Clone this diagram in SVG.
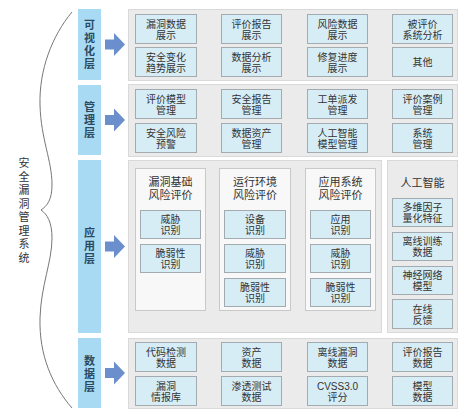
<svg xmlns="http://www.w3.org/2000/svg" width="474" height="415" viewBox="0 0 474 415">
<defs>
<style>
.bar{fill:#a9daf3;}
.panel{fill:#ebebeb;stroke:#d9d9d9;stroke-width:1;}
.sub{fill:#f8f8f8;stroke:#c9c9c9;stroke-width:1;}
.box{fill:#d7edf6;stroke:#a3aab0;stroke-width:1;}
.arrow{fill:#6b8fcc;}
text{font-family:"Liberation Sans","Noto Sans CJK SC",sans-serif;fill:#333;text-anchor:middle;}
.t{font-size:10px;}
.h{font-size:11px;}
.lay{font-size:11px;font-weight:bold;fill:#2b4a62;}
.main{font-size:11px;fill:#333;}
</style>
</defs>
<rect width="474" height="415" fill="#ffffff"/>

<g id="connectors">
<path d="M72,12 C52,36 39,70 40,105 C41,140 52,160 52,185 C52,200 47,206 41,210 C47,214 52,222 52,238 C52,262 41,285 40,318 C39,355 52,385 72,408" fill="none" stroke="#777" stroke-width="1"/>
<path class="arrow" d="M105,39.5 H114 V33 L125,44.5 L114,56 V49.5 H105 Z"/>
<path class="arrow" d="M105,115 H114 V108.5 L125,120 L114,131.5 V125 H105 Z"/>
<path class="arrow" d="M105,241.5 H114 V235 L125,246.5 L114,258 V251.5 H105 Z"/>
<path class="arrow" d="M105,368 H114 V361.5 L125,373 L114,384.5 V378 H105 Z"/>
</g>

<g id="title">
<text class="main" x="24" y="167"><tspan x="24">安</tspan><tspan x="24" dy="13.5">全</tspan><tspan x="24" dy="13.5">漏</tspan><tspan x="24" dy="13.5">洞</tspan><tspan x="24" dy="13.5">管</tspan><tspan x="24" dy="13.5">理</tspan><tspan x="24" dy="13.5">系</tspan><tspan x="24" dy="13.5">统</tspan></text>
</g>

<g id="layer-vis">
<rect class="bar" x="78" y="9" width="23" height="71"/>
<text class="lay" x="89.5" y="29"><tspan x="89.5">可</tspan><tspan x="89.5" dy="13">视</tspan><tspan x="89.5" dy="13">化</tspan><tspan x="89.5" dy="13">层</tspan></text>
</g>
<g id="layer-mgmt">
<rect class="bar" x="78" y="85" width="23" height="70"/>
<text class="lay" x="89.5" y="111"><tspan x="89.5">管</tspan><tspan x="89.5" dy="13">理</tspan><tspan x="89.5" dy="13">层</tspan></text>
</g>
<g id="layer-app">
<rect class="bar" x="78" y="160" width="23" height="173"/>
<text class="lay" x="89.5" y="237"><tspan x="89.5">应</tspan><tspan x="89.5" dy="13">用</tspan><tspan x="89.5" dy="13">层</tspan></text>
</g>
<g id="layer-data">
<rect class="bar" x="78" y="338" width="23" height="70"/>
<text class="lay" x="89.5" y="365"><tspan x="89.5">数</tspan><tspan x="89.5" dy="13">据</tspan><tspan x="89.5" dy="13">层</tspan></text>
</g>

<g id="panel-vis">
<rect class="panel" x="128.5" y="9.5" width="329" height="71"/>
<g id="vis-1"><rect class="box" x="135.5" y="14.5" width="61" height="29"/><text class="t" x="166" y="27.5"><tspan x="166">漏洞数据</tspan><tspan x="166" dy="11.3">展示</tspan></text></g>
<g id="vis-2"><rect class="box" x="221.5" y="14.5" width="60" height="29"/><text class="t" x="251.5" y="27.5"><tspan x="251.5">评价报告</tspan><tspan x="251.5" dy="11.3">展示</tspan></text></g>
<g id="vis-3"><rect class="box" x="307.5" y="14.5" width="60" height="29"/><text class="t" x="337.5" y="27.5"><tspan x="337.5">风险数据</tspan><tspan x="337.5" dy="11.3">展示</tspan></text></g>
<g id="vis-4"><rect class="box" x="392.5" y="14.5" width="60" height="29"/><text class="t" x="422.5" y="27.5"><tspan x="422.5">被评价</tspan><tspan x="422.5" dy="11.3">系统分析</tspan></text></g>
<g id="vis-5"><rect class="box" x="135.5" y="47.5" width="61" height="29"/><text class="t" x="166" y="60.5"><tspan x="166">安全变化</tspan><tspan x="166" dy="11.3">趋势展示</tspan></text></g>
<g id="vis-6"><rect class="box" x="221.5" y="47.5" width="60" height="29"/><text class="t" x="251.5" y="60.5"><tspan x="251.5">数据分析</tspan><tspan x="251.5" dy="11.3">展示</tspan></text></g>
<g id="vis-7"><rect class="box" x="307.5" y="47.5" width="60" height="29"/><text class="t" x="337.5" y="60.5"><tspan x="337.5">修复进度</tspan><tspan x="337.5" dy="11.3">展示</tspan></text></g>
<g id="vis-8"><rect class="box" x="392.5" y="47.5" width="60" height="29"/><text class="t" x="422.5" y="65.5">其他</text></g>
</g>

<g id="panel-mgmt">
<rect class="panel" x="128.5" y="84.5" width="329" height="72"/>
<g id="mg-1"><rect class="box" x="135.5" y="89.5" width="61" height="29"/><text class="t" x="166" y="102.5"><tspan x="166">评价模型</tspan><tspan x="166" dy="11.3">管理</tspan></text></g>
<g id="mg-2"><rect class="box" x="221.5" y="89.5" width="60" height="29"/><text class="t" x="251.5" y="102.5"><tspan x="251.5">安全报告</tspan><tspan x="251.5" dy="11.3">管理</tspan></text></g>
<g id="mg-3"><rect class="box" x="307.5" y="89.5" width="60" height="29"/><text class="t" x="337.5" y="102.5"><tspan x="337.5">工单派发</tspan><tspan x="337.5" dy="11.3">管理</tspan></text></g>
<g id="mg-4"><rect class="box" x="392.5" y="89.5" width="60" height="29"/><text class="t" x="422.5" y="102.5"><tspan x="422.5">评价案例</tspan><tspan x="422.5" dy="11.3">管理</tspan></text></g>
<g id="mg-5"><rect class="box" x="135.5" y="123.5" width="61" height="29"/><text class="t" x="166" y="136.5"><tspan x="166">安全风险</tspan><tspan x="166" dy="11.3">预警</tspan></text></g>
<g id="mg-6"><rect class="box" x="221.5" y="123.5" width="60" height="29"/><text class="t" x="251.5" y="136.5"><tspan x="251.5">数据资产</tspan><tspan x="251.5" dy="11.3">管理</tspan></text></g>
<g id="mg-7"><rect class="box" x="307.5" y="123.5" width="60" height="29"/><text class="t" x="337.5" y="136.5"><tspan x="337.5">人工智能</tspan><tspan x="337.5" dy="11.3">模型管理</tspan></text></g>
<g id="mg-8"><rect class="box" x="392.5" y="123.5" width="60" height="29"/><text class="t" x="422.5" y="136.5"><tspan x="422.5">系统</tspan><tspan x="422.5" dy="11.3">管理</tspan></text></g>
</g>

<g id="panel-app">
<rect class="panel" x="128.5" y="160.5" width="253" height="172"/>
<g id="sub-1">
<rect class="sub" x="135.5" y="168.5" width="70" height="142"/>
<text class="h" x="170.5" y="186"><tspan x="170.5">漏洞基础</tspan><tspan x="170.5" dy="12.5">风险评价</tspan></text>
<g id="a1-1"><rect class="box" x="140.5" y="210.5" width="60" height="28"/><text class="t" x="170.5" y="223"><tspan x="170.5">威胁</tspan><tspan x="170.5" dy="11.3">识别</tspan></text></g>
<g id="a1-2"><rect class="box" x="140.5" y="244.5" width="60" height="28"/><text class="t" x="170.5" y="257"><tspan x="170.5">脆弱性</tspan><tspan x="170.5" dy="11.3">识别</tspan></text></g>
</g>
<g id="sub-2">
<rect class="sub" x="219.5" y="168.5" width="71" height="142"/>
<text class="h" x="255" y="186"><tspan x="255">运行环境</tspan><tspan x="255" dy="12.5">风险评价</tspan></text>
<g id="a2-1"><rect class="box" x="224.5" y="210.5" width="61" height="28"/><text class="t" x="255" y="223"><tspan x="255">设备</tspan><tspan x="255" dy="11.3">识别</tspan></text></g>
<g id="a2-2"><rect class="box" x="224.5" y="244.5" width="61" height="28"/><text class="t" x="255" y="257"><tspan x="255">威胁</tspan><tspan x="255" dy="11.3">识别</tspan></text></g>
<g id="a2-3"><rect class="box" x="224.5" y="278.5" width="61" height="28"/><text class="t" x="255" y="291"><tspan x="255">脆弱性</tspan><tspan x="255" dy="11.3">识别</tspan></text></g>
</g>
<g id="sub-3">
<rect class="sub" x="305.5" y="168.5" width="70" height="142"/>
<text class="h" x="340.5" y="186"><tspan x="340.5">应用系统</tspan><tspan x="340.5" dy="12.5">风险评价</tspan></text>
<g id="a3-1"><rect class="box" x="310.5" y="210.5" width="60" height="28"/><text class="t" x="340.5" y="223"><tspan x="340.5">应用</tspan><tspan x="340.5" dy="11.3">识别</tspan></text></g>
<g id="a3-2"><rect class="box" x="310.5" y="244.5" width="60" height="28"/><text class="t" x="340.5" y="257"><tspan x="340.5">威胁</tspan><tspan x="340.5" dy="11.3">识别</tspan></text></g>
<g id="a3-3"><rect class="box" x="310.5" y="278.5" width="60" height="28"/><text class="t" x="340.5" y="291"><tspan x="340.5">脆弱性</tspan><tspan x="340.5" dy="11.3">识别</tspan></text></g>
</g>
</g>

<g id="panel-ai">
<rect class="panel" x="387.5" y="160.5" width="70" height="172"/>
<text class="h" x="422.5" y="187">人工智能</text>
<g id="ai-1"><rect class="box" x="392.5" y="198.5" width="60" height="28"/><text class="t" x="422.5" y="211"><tspan x="422.5">多维因子</tspan><tspan x="422.5" dy="11.3">量化特征</tspan></text></g>
<g id="ai-2"><rect class="box" x="392.5" y="232.5" width="60" height="28"/><text class="t" x="422.5" y="245"><tspan x="422.5">离线训练</tspan><tspan x="422.5" dy="11.3">数据</tspan></text></g>
<g id="ai-3"><rect class="box" x="392.5" y="266.5" width="60" height="28"/><text class="t" x="422.5" y="279"><tspan x="422.5">神经网络</tspan><tspan x="422.5" dy="11.3">模型</tspan></text></g>
<g id="ai-4"><rect class="box" x="392.5" y="299.5" width="60" height="29"/><text class="t" x="422.5" y="312.5"><tspan x="422.5">在线</tspan><tspan x="422.5" dy="11.3">反馈</tspan></text></g>
</g>

<g id="panel-data">
<rect class="panel" x="128.5" y="338.5" width="329" height="70"/>
<g id="d-1"><rect class="box" x="135.5" y="342.5" width="61" height="29"/><text class="t" x="166" y="355.5"><tspan x="166">代码检测</tspan><tspan x="166" dy="11.3">数据</tspan></text></g>
<g id="d-2"><rect class="box" x="221.5" y="342.5" width="60" height="29"/><text class="t" x="251.5" y="355.5"><tspan x="251.5">资产</tspan><tspan x="251.5" dy="11.3">数据</tspan></text></g>
<g id="d-3"><rect class="box" x="307.5" y="342.5" width="60" height="29"/><text class="t" x="337.5" y="355.5"><tspan x="337.5">离线漏洞</tspan><tspan x="337.5" dy="11.3">数据</tspan></text></g>
<g id="d-4"><rect class="box" x="392.5" y="342.5" width="60" height="29"/><text class="t" x="422.5" y="355.5"><tspan x="422.5">评价报告</tspan><tspan x="422.5" dy="11.3">数据</tspan></text></g>
<g id="d-5"><rect class="box" x="135.5" y="376.5" width="61" height="29"/><text class="t" x="166" y="389.5"><tspan x="166">漏洞</tspan><tspan x="166" dy="11.3">情报库</tspan></text></g>
<g id="d-6"><rect class="box" x="221.5" y="376.5" width="60" height="29"/><text class="t" x="251.5" y="389.5"><tspan x="251.5">渗透测试</tspan><tspan x="251.5" dy="11.3">数据</tspan></text></g>
<g id="d-7"><rect class="box" x="307.5" y="376.5" width="60" height="29"/><text class="t" x="337.5" y="389.5"><tspan x="337.5">CVSS3.0</tspan><tspan x="337.5" dy="11.3">评分</tspan></text></g>
<g id="d-8"><rect class="box" x="392.5" y="376.5" width="60" height="29"/><text class="t" x="422.5" y="389.5"><tspan x="422.5">模型</tspan><tspan x="422.5" dy="11.3">数据</tspan></text></g>
</g>
</svg>
